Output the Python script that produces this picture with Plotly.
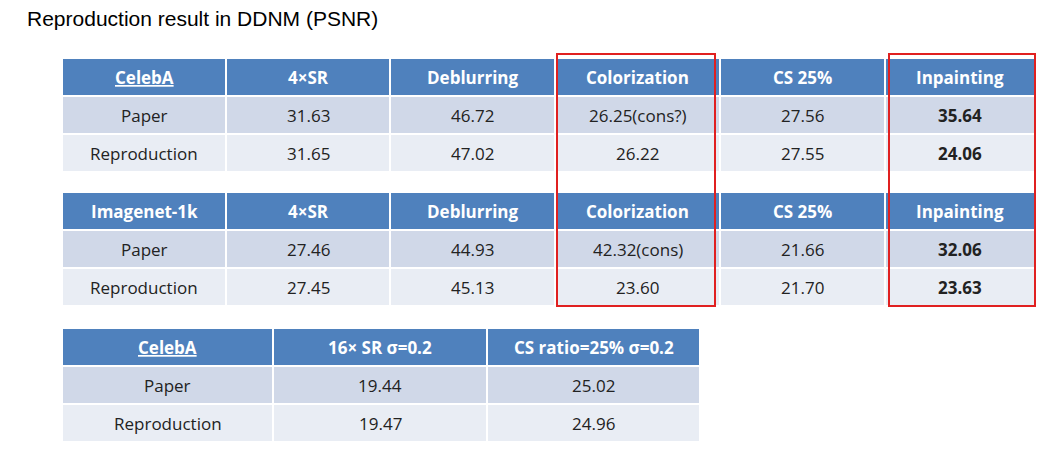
import plotly.graph_objects as go

W, H = 1059, 454
title = "Reproduction result in DDNM (PSNR)"

t1_header = ["CelebA", "4×SR", "Deblurring", "Colorization", "CS 25%", "Inpainting"]
t1_rows = [["Paper", "31.63", "46.72", "26.25(cons?)", "27.56", "<b>35.64</b>"],
           ["Reproduction", "31.65", "47.02", "26.22", "27.55", "<b>24.06</b>"]]
t2_header = ["Imagenet-1k", "4×SR", "Deblurring", "Colorization", "CS 25%", "Inpainting"]
t2_rows = [["Paper", "27.46", "44.93", "42.32(cons)", "21.66", "<b>32.06</b>"],
           ["Reproduction", "27.45", "45.13", "23.60", "21.70", "<b>23.63</b>"]]
t3_header = ["CelebA", "16× SR σ=0.2", "CS ratio=25% σ=0.2"]
t3_rows = [["Paper", "19.44", "25.02"],
           ["Reproduction", "19.47", "24.96"]]

fig = go.Figure()
shapes, ann = [], []
HDR, ODD, EVEN = "#4F81BD", "#D0D8E8", "#E9EDF4"

def table(xs, ys, header, rows, underline_first=False):
    allrows = [header] + rows
    fills = [HDR, ODD, EVEN]
    for r, row in enumerate(allrows):
        for c, txt in enumerate(row):
            x0, x1, y0, y1 = xs[c], xs[c+1], ys[r], ys[r+1]
            shapes.append(dict(type="rect", xref="x", yref="y", x0=x0, x1=x1, y0=y0, y1=y1,
                               fillcolor=fills[r], line=dict(color="white", width=2), layer="below"))
            if r == 0:
                t = f"<b>{txt}</b>"
                if c == 0 and underline_first:
                    t = f"<b><u>{txt}</u></b>"
                col = "white"
            else:
                t, col = txt, "#222222"
            ann.append(dict(x=(x0+x1)/2, y=(y0+y1)/2, xref="x", yref="y", text=t, showarrow=False,
                            font=dict(family="Open Sans, Arial", size=17, color=col)))

table([62, 226, 390, 555, 720, 885, 1035], [58, 96, 134, 172], t1_header, t1_rows, True)
table([62, 226, 390, 555, 720, 885, 1035], [192, 230, 268, 306], t2_header, t2_rows)
table([62, 273, 487, 700], [328, 366, 404, 442], t3_header, t3_rows, True)

for x0, x1 in [(557, 715), (889, 1035)]:
    shapes.append(dict(type="rect", xref="x", yref="y", x0=x0, x1=x1, y0=54, y1=306,
                       line=dict(color="#E02020", width=2), fillcolor="rgba(0,0,0,0)"))

ann.append(dict(x=25, y=18, xref="x", yref="y", text=title, showarrow=False, xanchor="left",
                font=dict(family="Arial", size=21, color="black")))

fig.update_layout(width=W-16, height=H-16, margin=dict(l=0, r=0, t=0, b=0),
                  plot_bgcolor="white", paper_bgcolor="white", shapes=shapes, annotations=ann,
                  xaxis=dict(range=[8, W-8], visible=False, fixedrange=True),
                  yaxis=dict(range=[H-8, 8], visible=False, fixedrange=True), showlegend=False)
fig.write_html("out.html", config={"displayModeBar": False})
